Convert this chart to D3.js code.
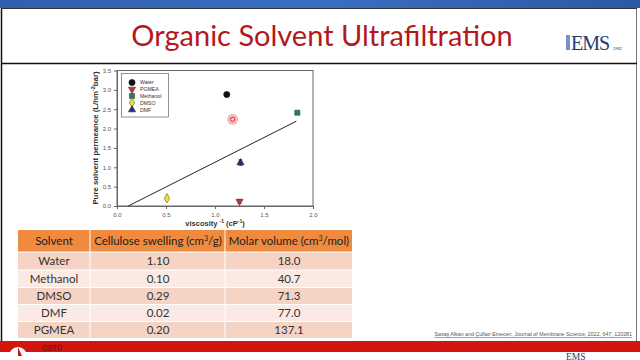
<!DOCTYPE html>
<html><head><meta charset="utf-8">
<script src="https://cdn.jsdelivr.net/npm/d3@7"></script>
<style>
html,body{margin:0;padding:0;background:#fff;}
svg{display:block;}
</style></head>
<body>
<script>
// ---- data ----
const solvents = ["Water", "PGMEA", "Methanol", "DMSO", "DMF"];
const viscosityInv = [1.12, 1.25, 1.84, 0.51, 1.26];
const permeance = [2.88, 0.12, 2.41, 0.20, 1.12];
const permErr = [0.05, 0.05, 0.03, 0.03, 0.07];
const fitX = [0.115, 1.83];
const fitY = [0.0, 2.19];
const pointerXY = [1.18, 2.24];
const xTicks = [0, 0.5, 1.0, 1.5, 2.0];
const yTicks = [0, 0.5, 1.0, 1.5, 2.0, 2.5, 3.0, 3.5];

const tableHeader = ["Solvent", "Cellulose swelling (cm³/g)", "Molar volume (cm³/mol)"];
const tableSolvents = ["Water", "Methanol", "DMSO", "DMF", "PGMEA"];
const tableSwelling = ["1.10", "0.10", "0.29", "0.02", "0.20"];
const tableMolarVol = ["18.0", "40.7", "71.3", "77.0", "137.1"];

const W = 640, H = 360;
const svg = d3.select("body").append("svg").attr("width", W).attr("height", H);

// ---- slide frame ----
const blue = svg.append("defs").append("linearGradient").attr("id","bg").attr("x1",0).attr("x2",1);
blue.append("stop").attr("offset","0").attr("stop-color","#2f5fae");
blue.append("stop").attr("offset","0.5").attr("stop-color","#3b6fc0");
blue.append("stop").attr("offset","1").attr("stop-color","#2d58a6");
svg.append("rect").attr("x",0).attr("y",0).attr("width",W).attr("height",8).attr("fill","url(#bg)");
svg.append("line").attr("x1",1.5).attr("x2",1.5).attr("y1",8).attr("y2",343).attr("stroke","#111").attr("stroke-width",1.5);
svg.append("line").attr("x1",636.5).attr("x2",636.5).attr("y1",8).attr("y2",343).attr("stroke","#777").attr("stroke-width",1);
svg.append("line").attr("x1",1).attr("x2",637).attr("y1",8.5).attr("y2",8.5).attr("stroke","#333").attr("stroke-width",1);
svg.append("line").attr("x1",1).attr("x2",637).attr("y1",63.5).attr("y2",63.5).attr("stroke","#111").attr("stroke-width",1.5);

svg.append("text").attr("x",322).attr("y",46).attr("text-anchor","middle")
  .attr("font-family","Lato, 'Open Sans', sans-serif").attr("font-size",29)
  .attr("fill","#b3191b").text("Organic Solvent Ultrafiltration");

// EMS logo top right
const logo = svg.append("g");
logo.append("text").attr("x",571).attr("y",50).attr("font-family","'Liberation Serif', serif")
  .attr("font-size",20).attr("fill","#1d3d73").attr("letter-spacing",-1).text("EMS");
logo.append("text").attr("x",613).attr("y",50).attr("font-family","'Liberation Sans', sans-serif")
  .attr("font-size",4).attr("fill","#1d3d73").text("1982");
logo.append("rect").attr("x",566).attr("y",35).attr("width",4).attr("height",15).attr("fill","#3a64a8").attr("opacity",0.7);

// ---- chart ----
const x = d3.scaleLinear().domain([0,2]).range([117,313]);
const y = d3.scaleLinear().domain([0,3.5]).range([206,70.5]);
const fontAx = "'Liberation Sans', Arial, sans-serif";

svg.append("rect").attr("x",x(0)).attr("y",y(3.5)).attr("width",x(2)-x(0)).attr("height",y(0)-y(3.5))
  .attr("fill","none").attr("stroke","#666").attr("stroke-width",1);

const xa = svg.append("g").attr("transform",`translate(0,${y(0)})`)
  .call(d3.axisBottom(x).tickValues(xTicks).tickFormat(d3.format(".1f")).tickSize(3).tickSizeOuter(0));
const ya = svg.append("g").attr("transform",`translate(${x(0)},0)`)
  .call(d3.axisLeft(y).tickValues(yTicks).tickFormat(d3.format(".1f")).tickSize(3).tickSizeOuter(0));
[xa, ya].forEach(g => {
  g.select(".domain").attr("stroke","#666");
  g.selectAll(".tick line").attr("stroke","#666");
  g.selectAll(".tick text").attr("font-family",fontAx).attr("font-size",6).attr("fill","#555");
});
xa.selectAll(".tick text").attr("dy","0.9em");

// axis titles
const xt = svg.append("text").attr("x",215).attr("y",226).attr("text-anchor","middle")
  .attr("font-family",fontAx).attr("font-size",7.5).attr("font-weight","bold").attr("fill","#333");
xt.append("tspan").text("viscosity ");
xt.append("tspan").attr("font-size",5).attr("dy",-3).text("-1");
xt.append("tspan").attr("dy",3).text(" (cP");
xt.append("tspan").attr("font-size",5).attr("dy",-3).text("-1");
xt.append("tspan").attr("dy",3).text(")");

const yt = svg.append("text").attr("transform","translate(98,138) rotate(-90)").attr("text-anchor","middle")
  .attr("font-family",fontAx).attr("font-size",7.8).attr("font-weight","bold").attr("fill","#333");
yt.append("tspan").text("Pure solvent permeance (L/hm");
yt.append("tspan").attr("font-size",5.5).attr("dy",-3).text("-2");
yt.append("tspan").attr("dy",3).text("bar)");

// fit line
svg.append("line").attr("x1",x(fitX[0])).attr("y1",y(fitY[0])).attr("x2",x(fitX[1])).attr("y2",y(fitY[1]))
  .attr("stroke","#222").attr("stroke-width",1);

const styles = {
  Water: {sym: d3.symbolCircle, fill: "#111", stroke: "#111", rot: 0},
  PGMEA: {sym: d3.symbolTriangle, fill: "#b53a3a", stroke: "#7a2020", rot: 180},
  Methanol: {sym: d3.symbolSquare, fill: "#2e7a60", stroke: "#1f5a45", rot: 0},
  DMSO: {sym: d3.symbolDiamond, fill: "#e6e23a", stroke: "#6b6420", rot: 0},
  DMF: {sym: d3.symbolTriangle, fill: "#2c2f6a", stroke: "#1c1e4a", rot: 0}
};
const sizes = {Water: 30, PGMEA: 22, Methanol: 26, DMSO: 26, DMF: 22};

// error bars
solvents.forEach((s,i) => {
  const cx = x(viscosityInv[i]);
  svg.append("line").attr("x1",cx).attr("x2",cx).attr("y1",y(permeance[i]-permErr[i])).attr("y2",y(permeance[i]+permErr[i]))
    .attr("stroke",styles[s].stroke).attr("stroke-width",0.8);
  [permeance[i]-permErr[i], permeance[i]+permErr[i]].forEach(v => {
    svg.append("line").attr("x1",cx-2).attr("x2",cx+2).attr("y1",y(v)).attr("y2",y(v))
      .attr("stroke",styles[s].stroke).attr("stroke-width",0.8);
  });
});

// points
svg.selectAll("path.pt").data(solvents).enter().append("path").attr("class","pt")
  .attr("d", s => d3.symbol().type(styles[s].sym).size(sizes[s])())
  .attr("transform",(s,i) => `translate(${x(viscosityInv[i])},${y(permeance[i])}) rotate(${styles[s].rot})`)
  .attr("fill", s => styles[s].fill).attr("stroke", s => styles[s].stroke).attr("stroke-width",0.6);

// pointer highlight
svg.append("circle").attr("cx",x(pointerXY[0])).attr("cy",y(pointerXY[1])).attr("r",5.5).attr("fill","#f4a6a6").attr("opacity",0.8);
svg.append("circle").attr("cx",x(pointerXY[0])).attr("cy",y(pointerXY[1])).attr("r",2).attr("fill","#fbe0e0").attr("stroke","#d22").attr("stroke-width",1);

// legend
svg.append("rect").attr("x",121.5).attr("y",73.5).attr("width",47).attr("height",43.5).attr("fill","#fff").attr("stroke","#777").attr("stroke-width",0.8);
const legY = [82.5, 89.3, 96, 102.8, 109.8];
solvents.forEach((s,i) => {
  svg.append("path").attr("d", d3.symbol().type(styles[s].sym).size(sizes[s])())
    .attr("transform",`translate(132,${legY[i]}) rotate(${styles[s].rot})`)
    .attr("fill",styles[s].fill).attr("stroke",styles[s].stroke).attr("stroke-width",0.6);
  svg.append("text").attr("x",140).attr("y",legY[i]+1.8).attr("font-family",fontAx).attr("font-size",5.2)
    .attr("fill","#333").text(s);
});

// ---- table ----
const colX = [18, 90, 225, 352];
const rowY = [230, 252, 270, 287.5, 304.5, 321.5, 338];
const rowFill = ["#f5d4c6", "#fbeae3", "#f5d4c6", "#fbeae3", "#f5d4c6"];
const tfont = "Lato, 'Open Sans', sans-serif";
svg.append("rect").attr("x",colX[0]).attr("y",rowY[0]).attr("width",colX[3]-colX[0]).attr("height",rowY[1]-rowY[0]).attr("fill","#ef8a3e");
tableSolvents.forEach((s,i) => {
  svg.append("rect").attr("x",colX[0]).attr("y",rowY[i+1]).attr("width",colX[3]-colX[0]).attr("height",rowY[i+2]-rowY[i+1])
    .attr("fill",rowFill[i]);
});
for (let i = 1; i < 6; i++) {
  svg.append("line").attr("x1",colX[0]).attr("x2",colX[3]).attr("y1",rowY[i]).attr("y2",rowY[i]).attr("stroke","#fff").attr("stroke-width",1);
}
[colX[1], colX[2]].forEach(cx => {
  svg.append("line").attr("x1",cx).attr("x2",cx).attr("y1",rowY[0]).attr("y2",rowY[6]).attr("stroke","#fff").attr("stroke-width",1);
});
const colC = [54, 158, 289];
tableHeader.forEach((h,j) => {
  const t = svg.append("text").attr("x",colC[j]).attr("y",rowY[0]+15).attr("text-anchor","middle")
    .attr("font-family",tfont).attr("font-size",11.5).attr("fill","#222");
  const parts = h.split("³");
  if (parts.length > 1) {
    t.append("tspan").text(parts[0]);
    t.append("tspan").attr("font-size",7).attr("dy",-4).text("3");
    t.append("tspan").attr("dy",4).text(parts[1]);
  } else t.text(h);
});
const cols = [tableSolvents, tableSwelling, tableMolarVol];
cols.forEach((col,j) => {
  col.forEach((v,i) => {
    svg.append("text").attr("x",colC[j]).attr("y",(rowY[i+1]+rowY[i+2])/2+4).attr("text-anchor","middle")
      .attr("font-family",tfont).attr("font-size",11.5).attr("fill","#333").text(v);
  });
});

// citation
svg.append("text").attr("x",632).attr("y",336).attr("text-anchor","end").attr("font-family",fontAx).attr("font-size",5.3)
  .attr("fill","#555").attr("text-decoration","underline")
  .text("Savaş Alkan and Çulfaz-Emecen, Journal of Membrane Science, 2022, 647, 120281");

// bottom bar
svg.append("rect").attr("x",0).attr("y",341).attr("width",W).attr("height",11).attr("fill","#d4140f");
svg.append("circle").attr("cx",18).attr("cy",356).attr("r",9).attr("fill","#fff");
svg.append("path").attr("d","M18,347 L22,356 L18,356 Z").attr("fill","#c81414");
svg.append("text").attr("x",42).attr("y",351).attr("font-family",tfont).attr("font-size",7).attr("font-weight","bold").attr("fill","#7a1010").text("ODTÜ");
svg.append("text").attr("x",566).attr("y",359.5).attr("font-family","'Liberation Serif', serif").attr("font-size",9.5).attr("fill","#1d3d73").text("EMS");
</script>
</body></html>
